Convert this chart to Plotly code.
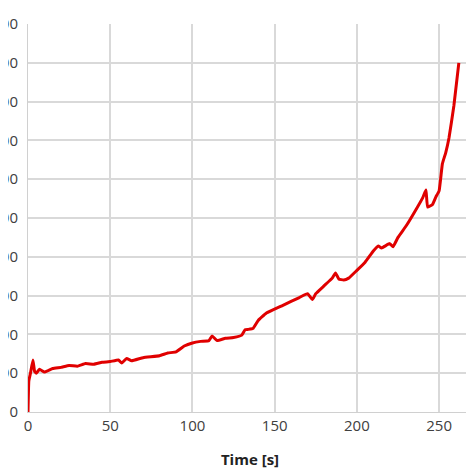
import plotly.graph_objects as go

time_s = [0, 0.5, 1.5, 3, 4, 5, 7, 10, 15, 20, 25, 30, 35, 40, 45, 50, 55, 57, 60, 63, 70, 80, 85, 90, 95, 100, 105, 110, 112, 115, 120, 125, 130, 132, 134, 137, 140, 145, 155, 165, 170, 173, 175, 180, 185, 187, 189, 192, 195, 200, 205, 210, 213, 215, 220, 222, 225, 230, 235, 240, 242, 243, 246, 248, 250, 252, 254, 256, 259, 262]
value = [0, 8, 10, 13.4, 10.5, 10, 11, 10.3, 11.2, 11.5, 12, 11.8, 12.5, 12.3, 12.8, 13, 13.4, 12.6, 13.8, 13.2, 14, 14.5, 15.2, 15.5, 17, 17.8, 18.2, 18.4, 19.6, 18.4, 19, 19.2, 19.8, 21.2, 21.3, 21.6, 23.6, 25.5, 27.5, 29.5, 30.5, 29, 30.5, 32.5, 34.5, 35.8, 34.3, 34, 34.5, 36.5, 38.6, 41.5, 42.8, 42.3, 43.4, 42.6, 45, 48, 51.5, 55.2, 57.2, 52.8, 53.5, 55.4, 57, 64, 66.8, 70.6, 79, 90]
y_ticks = [0, 10, 20, 30, 40, 50, 60, 70, 80, 90, 100]

fig = go.Figure()
fig.add_trace(go.Scatter(x=time_s, y=value, mode='lines',
                         line=dict(color='#e00000', width=3, shape='spline', smoothing=0.3)))

fig.update_layout(
    width=474, height=474,
    paper_bgcolor='white', plot_bgcolor='white',
    margin=dict(l=20, r=10, t=16, b=70),
    showlegend=False,
    font=dict(family='Open Sans', color='#404040', size=15),
    xaxis=dict(range=[0, 270], tickvals=[0, 50, 100, 150, 200, 250], automargin=False,
               showgrid=True, gridcolor='#d9d9d9', gridwidth=1.5, zeroline=False,
               showline=True, linecolor='#d0d0d0', ticks='',
               title=dict(text='<b>Time [s]</b>', font=dict(size=15, color='#222'), standoff=20)),
    yaxis=dict(range=[0, 100], tickvals=y_ticks, ticktext=[str(v * 10) for v in y_ticks],
               automargin=False,
               showgrid=True, gridcolor='#d9d9d9', gridwidth=1.5, zeroline=False,
               showline=True, linecolor='#d0d0d0', ticks='', ticklabelstandoff=6),
)

fig.write_html("out.html")
